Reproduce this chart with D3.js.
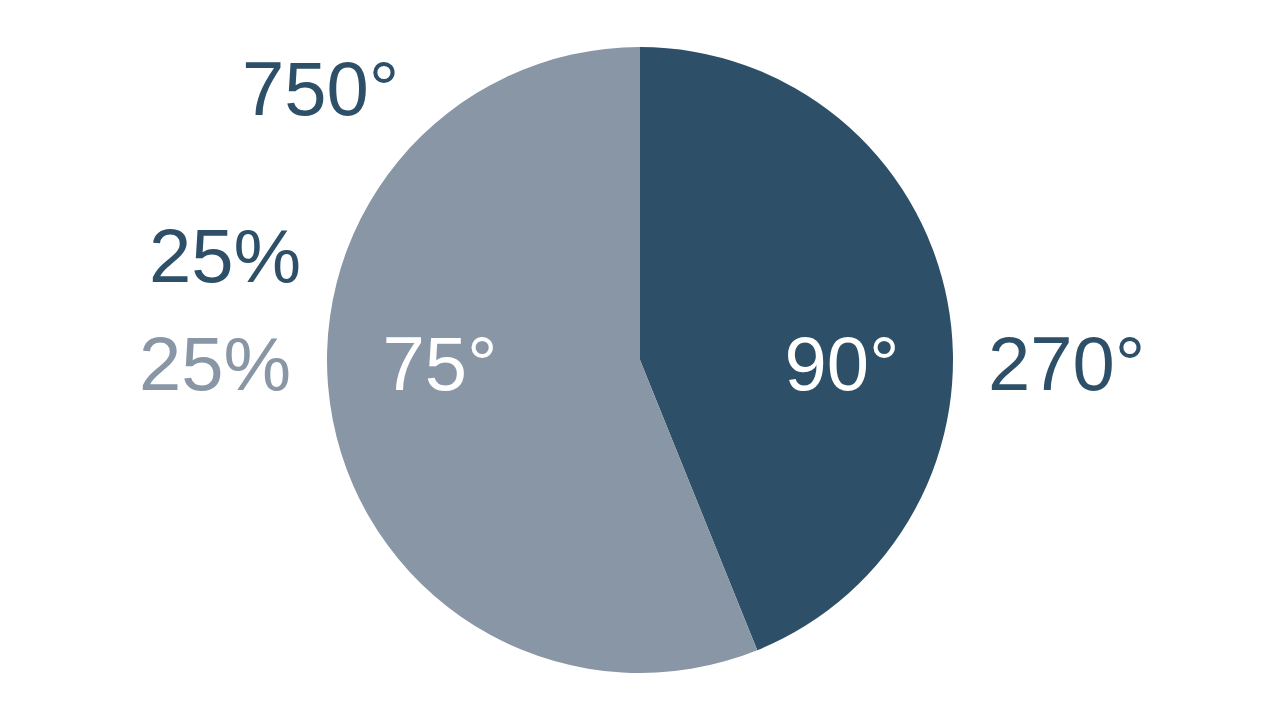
<!DOCTYPE html>
<html>
<head>
  <meta charset="utf-8">
  <title>Pie</title>
  <script src="https://cdn.jsdelivr.net/npm/d3@7"></script>
  <style>
    html, body { margin: 0; padding: 0; background: #fff; }
    svg text { font-family: "Liberation Sans", Arial, sans-serif; }
  </style>
</head>
<body>
<script>
  // slices, in degrees of the circle, clockwise from 12 o'clock
  var slices = ["dark", "light"];
  var sliceValues = [158, 202];
  var sliceColors = ["#2d5068", "#8896a5"];

  // labels written on the chart
  var innerLabels = ["90°", "75°"];
  var outerLabels = ["270°", "750°", "25%", "25%"];

  var width = 1280, height = 720,
      cx = 640, cy = 360, radius = 313,
      fontSize = 76;

  var svg = d3.select("body").append("svg")
      .attr("width", width)
      .attr("height", height);

  var pie = d3.pie().sort(null).value(function (d) { return d; });
  var arc = d3.arc().innerRadius(0).outerRadius(radius);

  var g = svg.append("g").attr("transform", "translate(" + cx + "," + cy + ")");

  g.selectAll("path")
    .data(pie(sliceValues))
    .enter()
    .append("path")
      .attr("d", arc)
      .attr("fill", function (d, i) { return sliceColors[i]; });

  // white labels inside the slices
  g.selectAll("text.inner")
    .data(innerLabels)
    .enter()
    .append("text")
      .attr("class", "inner")
      .attr("x", function (d, i) { return i === 0 ? 202 : -200; })
      .attr("y", 30)
      .attr("text-anchor", "middle")
      .style("font-size", fontSize + "px")
      .style("fill", "#fff")
      .text(function (d) { return d; });

  // labels around the pie
  var outerPos = [
    { x: radius + 35, y: 30, fill: sliceColors[0] },
    { x: -398, y: -245, fill: sliceColors[0] },
    { x: -491, y: -78, fill: sliceColors[0] },
    { x: -501, y: 30, fill: sliceColors[1] }
  ];

  g.selectAll("text.outer")
    .data(outerLabels)
    .enter()
    .append("text")
      .attr("class", "outer")
      .attr("x", function (d, i) { return outerPos[i].x; })
      .attr("y", function (d, i) { return outerPos[i].y; })
      .style("font-size", fontSize + "px")
      .style("fill", function (d, i) { return outerPos[i].fill; })
      .text(function (d) { return d; });
</script>
</body>
</html>
